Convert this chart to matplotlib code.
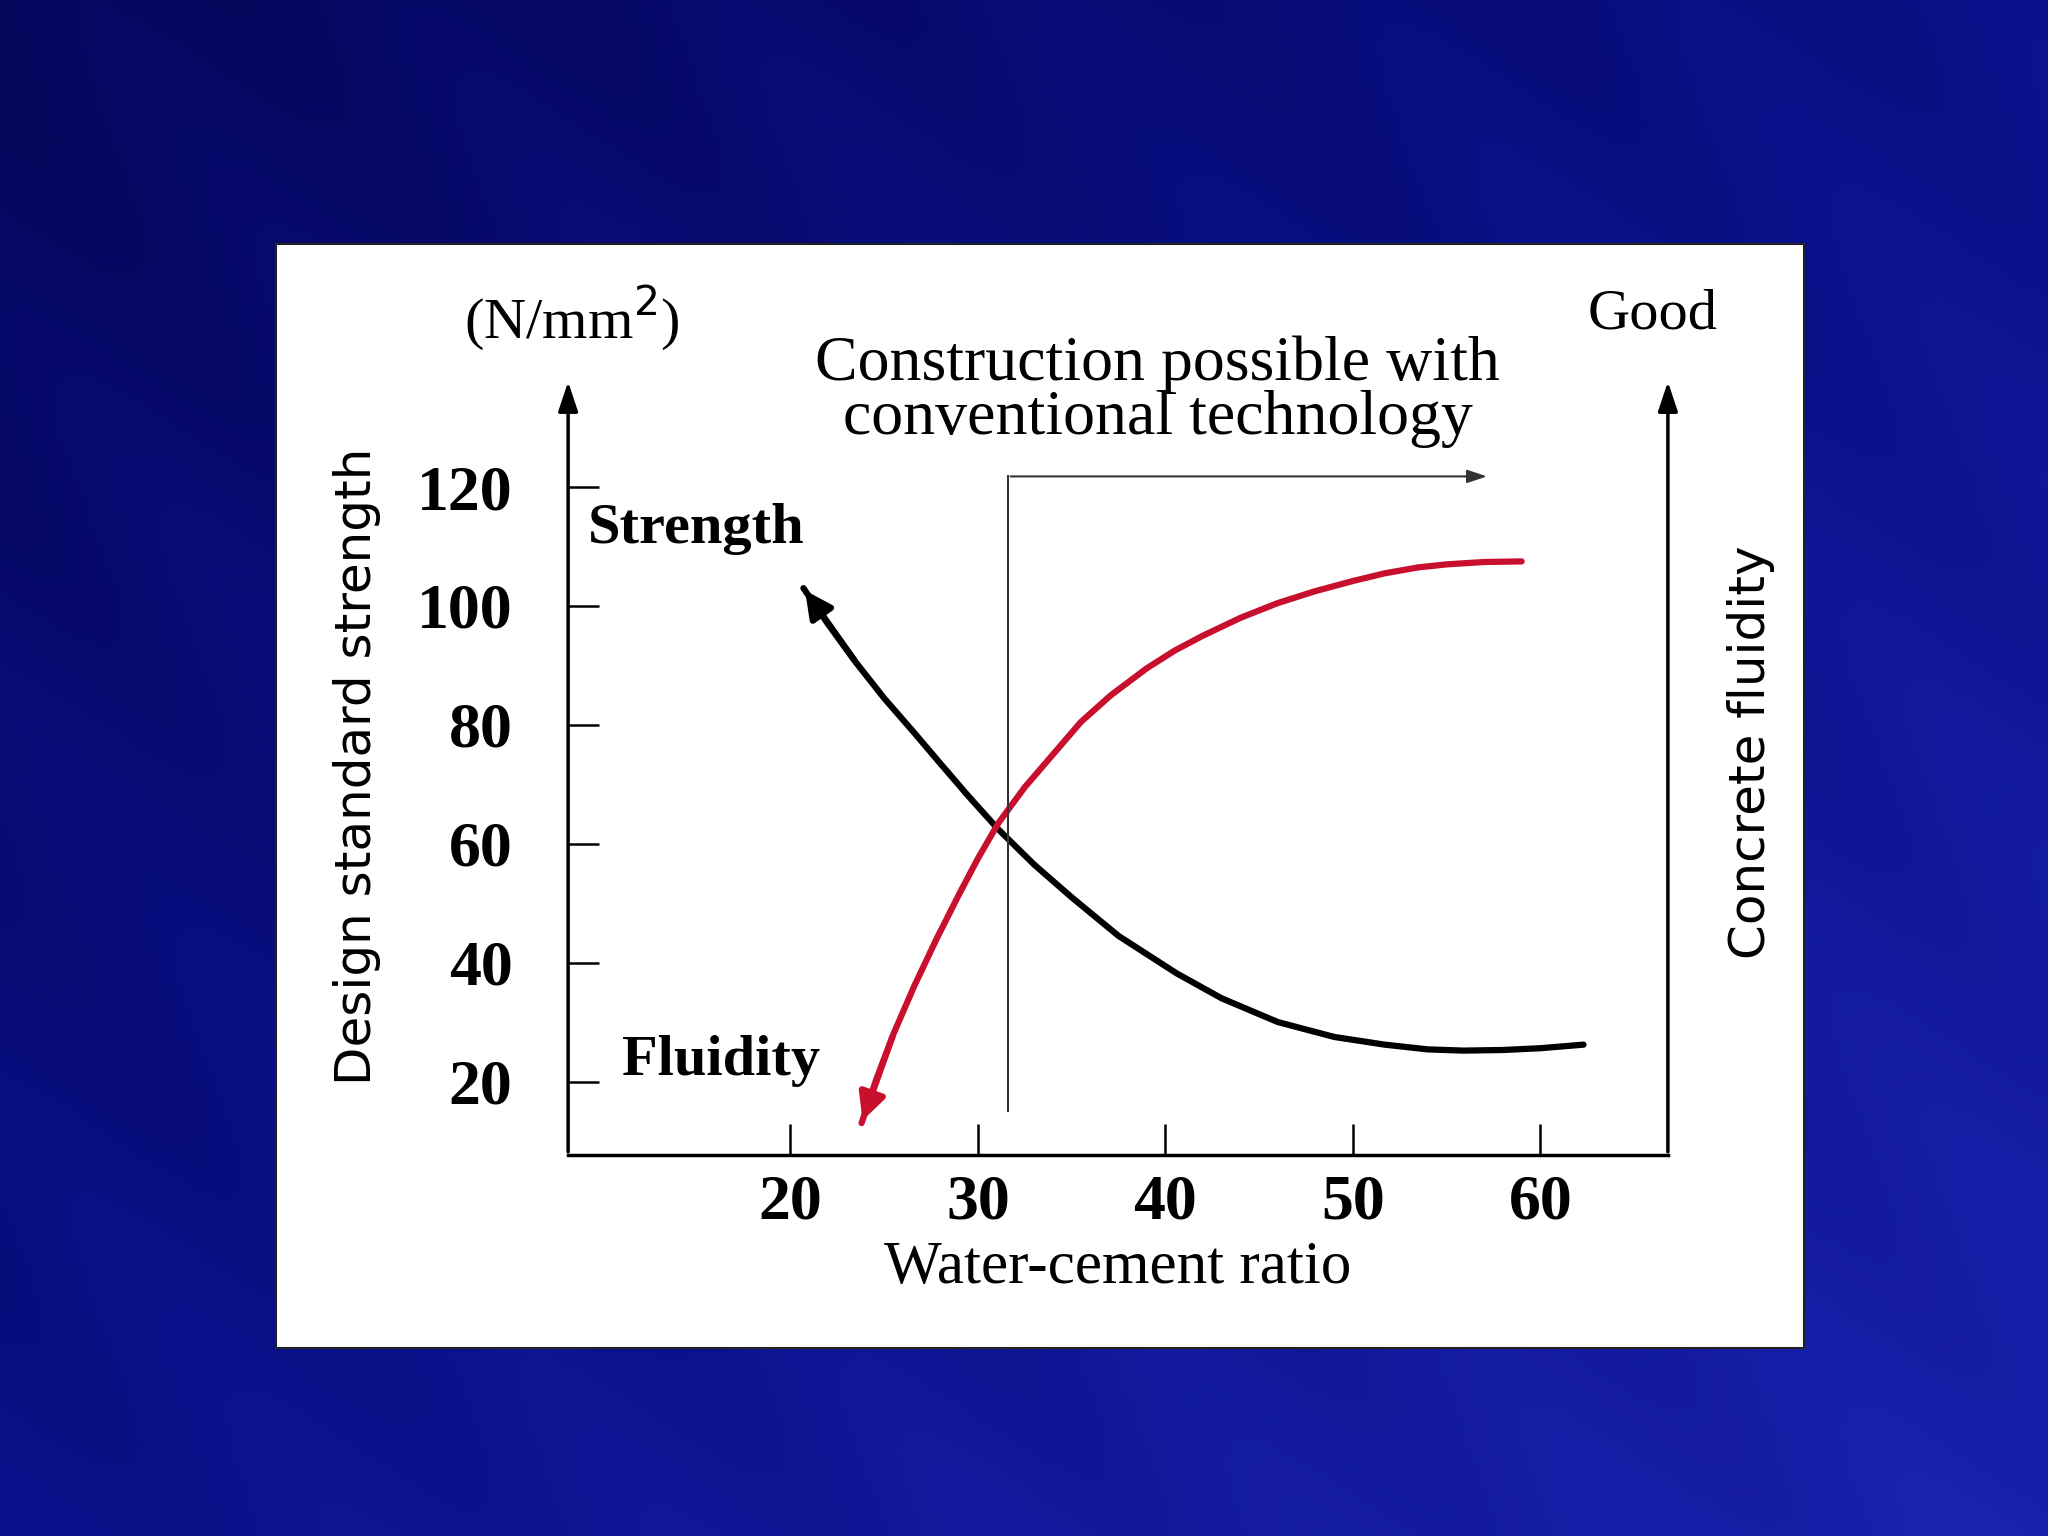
import matplotlib.pyplot as plt
import numpy as np
from matplotlib.colors import LinearSegmentedColormap
from matplotlib.patches import Rectangle

# ── Data ─────────────────────────────────────────────────────────────────────
strength_x = [20.7, 22.0, 23.5, 25.0, 26.6, 28.0, 29.5, 31.1, 33.0, 35.0, 37.5,
              40.6, 43.0, 46.0, 49.0, 51.7, 54.0, 55.9, 58.0, 60.0, 62.3]
strength_y = [103.0, 97.0, 90.5, 84.5, 78.7, 73.5, 68.0, 62.4, 56.5, 51.0, 44.5,
              38.2, 34.0, 30.0, 27.5, 26.2, 25.4, 25.2, 25.3, 25.6, 26.2]
fluid_x = [23.8, 24.6, 25.5, 26.6, 27.8, 29.0, 30.0, 31.1, 32.5, 34.0, 35.5, 37.1,
           39.0, 40.5, 42.0, 44.0, 46.0, 48.0, 50.0, 51.7, 53.5, 55.0, 57.0, 59.0]
fluid_y = [13.0, 20.5, 28.0, 36.0, 44.0, 51.5, 57.5, 63.5, 69.5, 75.0, 80.5, 85.0,
           89.5, 92.5, 95.0, 98.0, 100.5, 102.5, 104.2, 105.5, 106.5, 107.0, 107.4, 107.5]
x_ticks = [20, 30, 40, 50, 60]
y_ticks = [20, 40, 60, 80, 100, 120]
limit_x = 31.6

plt.rcParams.update({"font.family": ["Liberation Serif", "DejaVu Serif"]})

fig = plt.figure(figsize=(20.48, 15.36), dpi=100)

# dark blue background
bg = fig.add_axes([0, 0, 1, 1])
yy, xx = np.mgrid[0:1:300j, 0:1:400j]
grad = 0.5 * xx + 0.5 * yy + 0.05 * np.sin(40 * (xx - 0.6 * yy))
cmap = LinearSegmentedColormap.from_list("b", ["#04065a", "#0a1088", "#1a22b0"])
bg.imshow(grad, cmap=cmap, aspect="auto", extent=[0, 1, 0, 1], origin="upper")
bg.set_axis_off()
bg.add_patch(Rectangle((0.135, 0.1224), 0.746, 0.7185, facecolor="white",
                       edgecolor="#222222", lw=1.5, transform=bg.transAxes))

ax = fig.add_axes([0.2774, 0.2483, 0.537, 0.505])
ax.patch.set_alpha(0)
ax.set_xlim(8.15, 66.8)
ax.set_ylim(7.7, 138.2)
for s in ("top", "right", "left", "bottom"):
    ax.spines[s].set_visible(s == "bottom")
ax.spines["bottom"].set_linewidth(2.5)
for xf in (0, 1):
    ax.annotate("", xy=(xf, 1.0), xytext=(xf, 0), xycoords="axes fraction",
                arrowprops=dict(arrowstyle="-|>,head_length=1.8,head_width=0.6",
                                lw=2.5, color="black"))

ax.set_xticks(x_ticks)
ax.set_yticks(y_ticks)
ax.tick_params(direction="in", length=22, width=1.8, labelsize=46, pad=14)
ax.tick_params(axis="y", pad=40)
for lab in ax.get_xticklabels() + ax.get_yticklabels():
    lab.set_fontweight("bold")

# curves
ax.plot(strength_x, strength_y, color="black", lw=4.5, solid_capstyle="round")
ax.annotate("", xy=(strength_x[0], strength_y[0]), xytext=(strength_x[2], strength_y[2]),
            arrowprops=dict(arrowstyle="-|>,head_length=1.6,head_width=0.8",
                            lw=4.5, color="black"))
ax.plot(fluid_x, fluid_y, color="#c8102e", lw=4.5, solid_capstyle="round")
ax.annotate("", xy=(fluid_x[0], fluid_y[0]), xytext=(fluid_x[2], fluid_y[2]),
            arrowprops=dict(arrowstyle="-|>,head_length=1.6,head_width=0.8",
                            lw=4.5, color="#c8102e"))

# conventional technology region
ax.plot([limit_x, limit_x], [15, 121.8], color="#333333", lw=1.5)
ax.annotate("", xy=(57.3, 121.8), xytext=(limit_x, 121.8),
            arrowprops=dict(arrowstyle="-|>,head_length=1.2,head_width=0.4",
                            lw=1.5, color="#333333"))

ax.text(39.6, 136, "Construction possible with\nconventional technology",
        ha="center", va="center", fontsize=46, linespacing=0.9)
ax.text(9.2, 113, "Strength", fontsize=42, fontweight="bold", va="center")
ax.text(11.0, 23.5, "Fluidity", fontsize=42, fontweight="bold", va="center")

ax.set_xlabel("Water-cement ratio", fontsize=44, labelpad=6)
ax.set_ylabel("Design standard strength", fontsize=36, family="DejaVu Sans",
              labelpad=26)
fig.text(0.279, 0.793, "(N/mm$^2$)", fontsize=42, ha="center", va="center")
fig.text(0.807, 0.795, "Good", fontsize=42, ha="center", va="center")
fig.text(0.855, 0.51, "Concrete fluidity", fontsize=36, family="DejaVu Sans",
         rotation=90, ha="center", va="center")

fig.savefig("out.png", dpi=100)
